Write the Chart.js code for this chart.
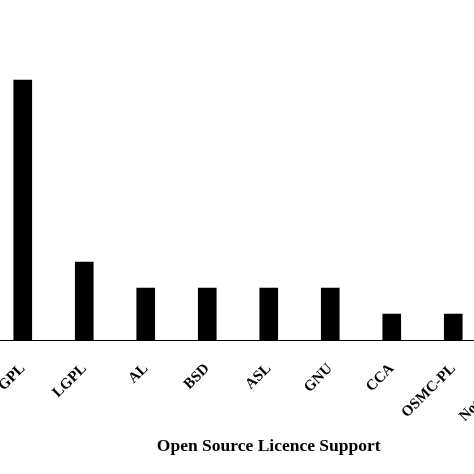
<!DOCTYPE html>
<html>
<head>
<meta charset="utf-8">
<script src="https://cdn.jsdelivr.net/npm/chart.js@4/dist/chart.umd.min.js"></script>
<style>
  html, body { margin: 0; padding: 0; background: #fff; overflow: hidden; }
  #wrap { position: relative; width: 474px; height: 474px; overflow: hidden; }
  #chart { position: absolute; left: -100px; top: 0; }
</style>
</head>
<body>
<div id="wrap"><canvas id="chart" width="674" height="474"></canvas></div>
<script>
// licences as they appear on the axis (chart is cropped at both sides)
const licences = ['GPL', 'LGPL', 'AL', 'BSD', 'ASL', 'GNU', 'CCA', 'OSMC-PL', 'Not defined'];
const counts = [10, 3, 2, 2, 2, 2, 1, 1, 1];
const axisTitle = 'Open Source Licence Support';

const serif = "'Liberation Serif', 'DejaVu Serif', serif";

const ctx = document.getElementById('chart').getContext('2d');
const chart = new Chart(ctx, {
    type: 'bar',
    data: {
        labels: licences,
        datasets: [{
            data: counts,
            backgroundColor: '#000',
            borderWidth: 0,
            barThickness: 18
        }]
    },
    options: {
        responsive: false,
        animation: false,
        layout: { padding: { left: 92, right: 28.5, top: 28, bottom: 0 } },
        plugins: { legend: { display: false }, tooltip: { enabled: false } },
        scales: {
            x: {
                grid: { display: false },
                border: { display: true, color: '#000', width: 1 },
                ticks: {
                    color: '#000',
                    font: { family: serif, size: 15, weight: 'bold' },
                    minRotation: 45,
                    maxRotation: 45,
                    autoSkip: false,
                    padding: 12
                },
                title: {
                    display: true,
                    text: axisTitle,
                    color: '#000',
                    font: { family: serif, size: 17.5, weight: 'bold' },
                    padding: { top: 4, bottom: 17 }
                },
                afterFit: (scale) => { scale.height = 134; }
            },
            y: {
                display: false,
                min: 0,
                max: 12
            }
        }
    }
});
</script>
</body>
</html>
